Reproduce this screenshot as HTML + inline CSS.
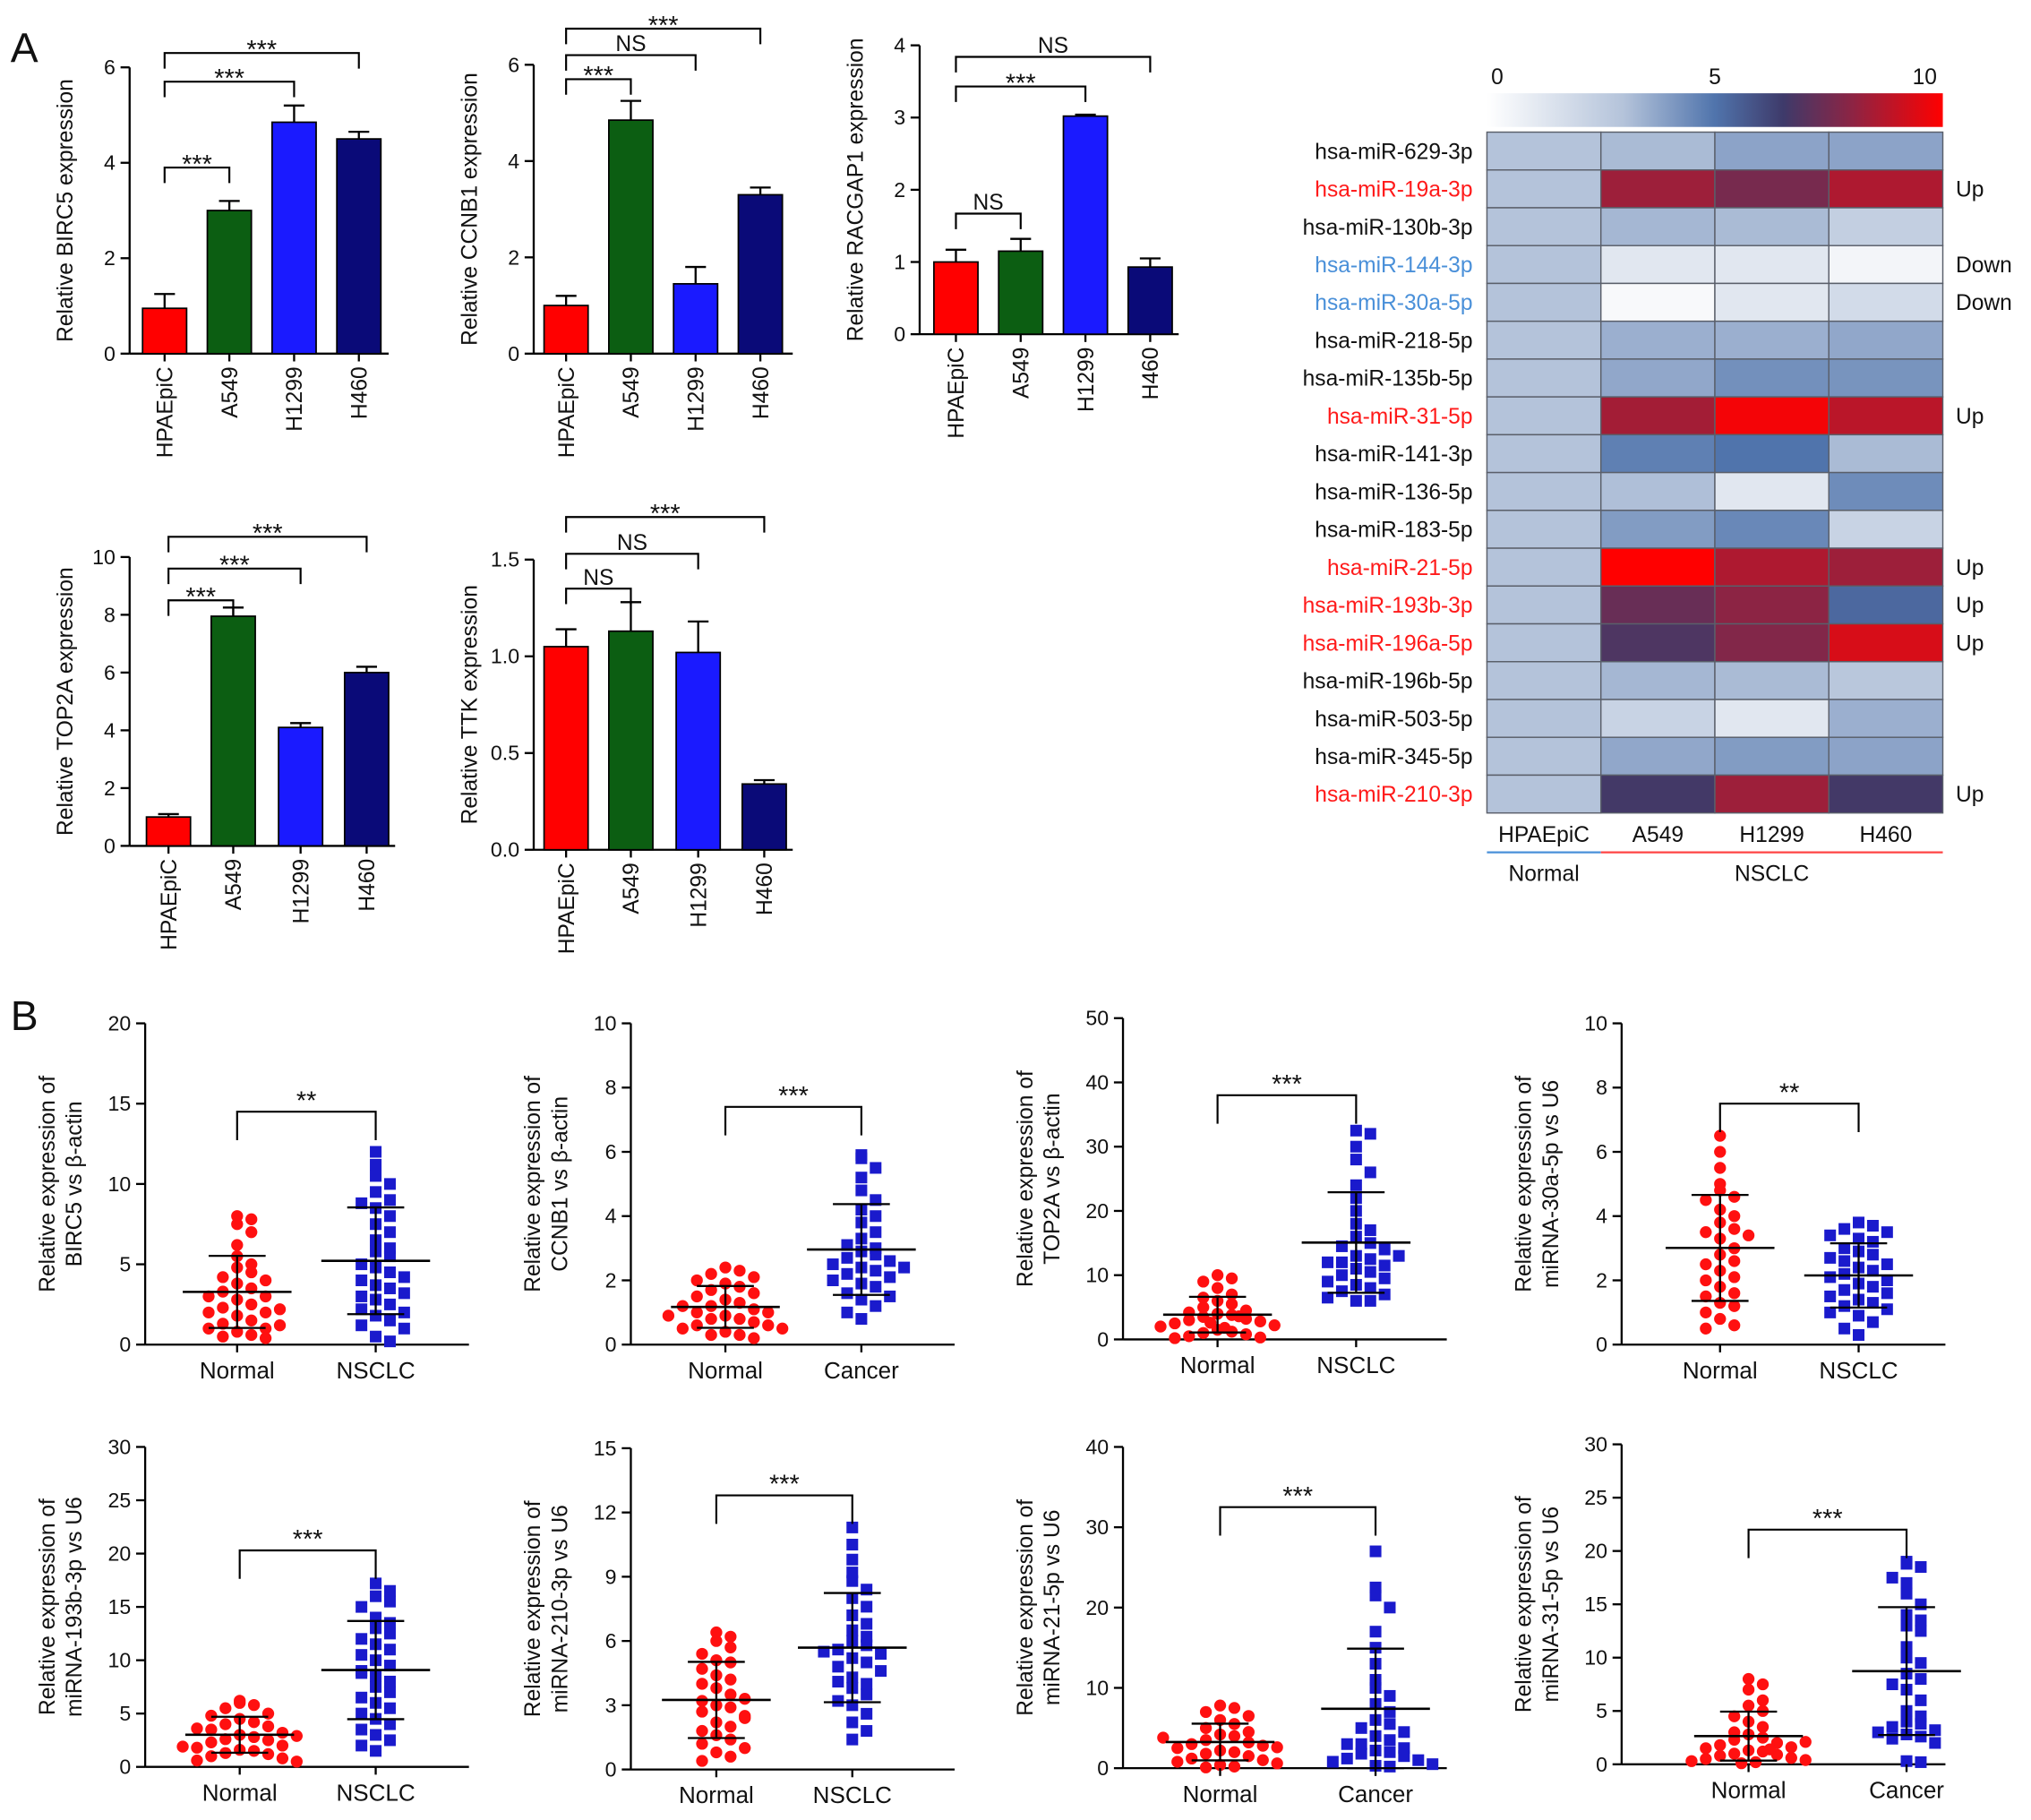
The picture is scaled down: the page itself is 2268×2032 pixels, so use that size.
<!DOCTYPE html>
<html><head><meta charset="utf-8"><style>
html,body{margin:0;padding:0;background:#fff}
svg{display:block}
text{font-family:"Liberation Sans",Arial,sans-serif;fill:#111}
</style></head><body>
<svg id="fig" xmlns="http://www.w3.org/2000/svg" width="2268" height="2032" viewBox="0 0 1568 1405"></svg>
<script>
// ===== Panel A bar data =====
const barLabels = ["HPAEpiC","A549","H1299","H460"];
const barColors = ["#ff0000","#0c5e12","#1a1aff","#0a0a78"];
const birc5Vals = [0.95,3.0,4.85,4.5];
const birc5Errs = [0.3,0.2,0.35,0.15];
const ccnb1Vals = [1.0,4.85,1.45,3.3];
const ccnb1Errs = [0.2,0.4,0.35,0.15];
const racgapVals = [1.0,1.15,3.02,0.93];
const racgapErrs = [0.17,0.17,0.02,0.12];
const top2aVals = [1.0,7.95,4.1,6.0];
const top2aErrs = [0.1,0.3,0.15,0.2];
const ttkVals = [1.05,1.13,1.02,0.34];
const ttkErrs = [0.09,0.15,0.16,0.02];
// ===== Heatmap data =====
const mirNames = ["hsa-miR-629-3p","hsa-miR-19a-3p","hsa-miR-130b-3p","hsa-miR-144-3p","hsa-miR-30a-5p","hsa-miR-218-5p","hsa-miR-135b-5p","hsa-miR-31-5p","hsa-miR-141-3p","hsa-miR-136-5p","hsa-miR-183-5p","hsa-miR-21-5p","hsa-miR-193b-3p","hsa-miR-196a-5p","hsa-miR-196b-5p","hsa-miR-503-5p","hsa-miR-345-5p","hsa-miR-210-3p"];
const mirStatus = ["","Up","","Down","Down","","","Up","","","","Up","Up","Up","","","","Up"];
const heatCols = ["HPAEpiC","A549","H1299","H460"];
const heatVals = [
 [3,3.2,3.8,3.8],[3,8.3,7.6,8.6],[3,3.3,3.2,2.4],[3,1.2,1.2,0.5],[3,0.3,1.2,1.8],
 [3,3.5,3.5,3.7],[3,3.7,4.3,4.2],[3,8.4,9.8,8.8],[3,4.7,5,3.2],[3,3.1,1.2,4.4],
 [3,4,4.5,2.2],[3,10,8.6,8.3],[3,7.3,8,5.3],[3,6.8,7.8,9.3],[3,3.3,3.2,2.8],
 [3,2.2,1.2,3.5],[3,3.7,4,3.8],[3,6.6,8.3,6.6]];
// ===== Panel B scatter data =====
const b1N=[8,7.8,7.5,7,6.2,5.5,5,4.8,4.5,4.2,4,3.8,3.5,3.3,3,3,2.8,2.5,2.3,2,2,1.8,1.5,1.3,1,1,0.8,0.6,0.5,0.4,1.2,2.2];
const b1C=[12,11.2,10.5,10,9.5,9,8.8,8.5,8,7.5,7,6.5,6,5.8,5.5,5,4.8,4.5,4,3.7,3.5,3,2.8,2.5,2.2,2,1.8,1.5,1.2,1,0.5,0.2,3.2,4.2];
const b2N=[2.4,2.3,2.2,2.1,2,1.9,1.8,1.7,1.6,1.5,1.4,1.3,1.2,1.1,1,1,0.9,0.8,0.8,0.7,0.6,0.6,0.5,0.5,0.4,0.3,0.3,0.2,1.2,0.9];
const b2C=[5.9,5.8,5.5,5.2,4.8,4.5,4.2,4,3.8,3.5,3.3,3,2.9,2.8,2.7,2.6,2.5,2.4,2.3,2.2,2.1,2,1.9,1.8,1.6,1.5,1.4,1.2,1,0.8,3.1,2.4];
const b3N=[10,9.5,9,8,7,6.5,6,5.5,5,4.5,4.2,4,3.8,3.5,3.2,3,2.8,2.5,2.2,2,1.8,1.5,1.2,1,0.8,0.5,0.3,0.2,2.6,3.6];
const b3C=[32.5,32,30,28,26,24,22,20,18,17,16,15,14.5,14,13,12.5,12,11.5,11,10.5,10,9.5,9,8.5,8,7.5,7,6.5,6,6,12,13];
const b4N=[6.5,6,5.5,5,4.8,4.6,4.5,4.2,4,3.8,3.6,3.5,3.3,3,2.8,2.6,2.5,2.3,2.1,2,1.8,1.6,1.5,1.3,1.2,1,0.8,0.6,0.5,3.4];
const b4C=[3.8,3.7,3.6,3.5,3.4,3.3,3.2,3,2.9,2.8,2.6,2.5,2.4,2.3,2.2,2,1.9,1.8,1.7,1.6,1.5,1.4,1.3,1.2,1.1,1,0.9,0.7,0.5,0.3,2.1,2.7];
const b5N=[6.2,6,5.8,5.5,5,4.8,4.5,4.2,4,3.8,3.5,3.2,3,2.8,2.6,2.5,2.3,2,1.8,1.6,1.5,1.3,1.2,1,0.8,0.6,0.5,2.9,3.6,1.9];
const b5C=[17.2,16.5,16,15.5,15,14,13.5,13,12.5,12,11.5,11,10.5,10,9.5,9,8.5,8,7.5,7,6.5,6,5.5,5,4.5,4,3.5,3,2.5,2,1.5,8.8];
const b6N=[6.4,6.2,6,5.7,5.4,5.1,5,4.7,4.4,4.2,4,3.8,3.5,3.2,3,2.9,2.7,2.5,2.2,2,1.8,1.6,1.4,1.2,1,0.8,0.6,0.4,3.3,2.4];
const b6C=[11.3,10.5,9.8,9.2,8.8,8.4,8,7.6,7.2,6.8,6.5,6.2,6,5.8,5.6,5.4,5.2,5,4.8,4.6,4.3,4,3.8,3.5,3.2,3,2.6,2.2,1.8,1.4,5.5,4.1];
const b7N=[7.8,7.5,7,6.5,6,5.5,5,4.5,4.2,4,3.5,3.2,3,2.8,2.5,2.2,2,1.8,1.5,1.2,1,0.8,0.6,0.4,0.2,0.1,2.6,3.8];
const b7C=[27,22.5,21.5,20,17,15,13,11,10,9,8,7,6,5.5,5,4.5,4,3.5,3,2.5,2.2,2,1.8,1.5,1.2,1,0.8,0.5,0.3,0.2,3];
const b8N=[8,7.5,7,6,5.5,5,4.5,4,3.5,3,2.8,2.5,2.3,2,1.8,1.6,1.5,1.3,1.2,1,0.9,0.8,0.6,0.5,0.4,0.3,0.2,0.1,2.1,1.4];
const b8C=[19,18.8,18.5,17.5,17,16,15,14,13.5,13,12.5,11,10,9.5,8.5,8,7.5,7,6,5,4.5,4,3.8,3.5,3.2,3,2.8,2.6,2.4,2,0.3,0.2];

const NS="http://www.w3.org/2000/svg";
const svg=document.getElementById('fig');
function el(tag,attrs,parent,txt){const e=document.createElementNS(NS,tag);for(const k in attrs)e.setAttribute(k,attrs[k]);if(txt!==undefined)e.textContent=txt;(parent||svg).appendChild(e);return e;}
function grp(name){const g=el('g',{});return g;}

let t=el('text',{x:8,y:48,'font-size':32},svg,'A');
t=el('text',{x:8,y:795,'font-size':32},svg,'B');

function yAxis(g,x0,yTop,yBot,max,ticks,fmt){
  const ys=v=>yBot-(v/max)*(yBot-yTop);
  el('line',{x1:x0,y1:yTop,x2:x0,y2:yBot,stroke:'#000','stroke-width':1.6},g);
  ticks.forEach(v=>{const y=ys(v);
    el('line',{x1:x0-7,y1:y,x2:x0,y2:y,stroke:'#000','stroke-width':1.6},g);
    const tt=el('text',{x:x0-11,y:y+5.5,'font-size':16,'text-anchor':'end'},g,fmt?fmt(v):String(v));
    });
  return ys;
}

function barChart(name,x0,xEnd,yTop,yBot,max,ticks,fmt,vals,errs,centers,title,brackets){
  const g=grp(name);
  const ys=yAxis(g,x0,yTop,yBot,max,ticks,fmt);
  el('line',{x1:x0,y1:yBot,x2:xEnd,y2:yBot,stroke:'#000','stroke-width':1.6},g);
  vals.forEach((v,i)=>{const cx=centers[i],w=34;
    const r=el('rect',{x:cx-w/2,y:ys(v),width:w,height:yBot-ys(v),fill:barColors[i],stroke:'#000','stroke-width':1.2},g);
    
    const ye=ys(v+errs[i]);
    el('line',{x1:cx,y1:ys(v),x2:cx,y2:ye,stroke:'#000','stroke-width':1.6},g);
    el('line',{x1:cx-8,y1:ye,x2:cx+8,y2:ye,stroke:'#000','stroke-width':1.6},g);
    el('line',{x1:cx,y1:yBot,x2:cx,y2:yBot+6,stroke:'#000','stroke-width':1.6},g);
    const lt=el('text',{x:cx+6,y:yBot+10,'font-size':17,'text-anchor':'end',transform:`rotate(-90 ${cx+6} ${yBot+10})`},g,barLabels[i]);
    
  });
  const my=(yTop+yBot)/2, tx=x0-44;
  const tt=el('text',{x:tx,y:my,'font-size':17,'text-anchor':'middle',transform:`rotate(-90 ${tx} ${my})`},g,title);
  
  brackets.forEach(b=>{const y=ys(b[2]),xa=centers[b[0]],xb=centers[b[1]];
    el('polyline',{points:`${xa},${y+12} ${xa},${y} ${xb},${y} ${xb},${y+12}`,fill:'none',stroke:'#000','stroke-width':1.5},g);
    const s=el('text',{x:(xa+xb)/2,y:y-(b[3]==='NS'?3:-4),'font-size':b[3]==='NS'?17:20,'text-anchor':'middle'},g,b[3]);
    });
}
const f1=v=>v.toFixed(1);
barChart('birc5-bar-chart',100,300,52,273,6,[0,2,4,6],null,birc5Vals,birc5Errs,[127,177,227,277],'Relative BIRC5 expression',[[0,1,3.9,'***'],[0,2,5.7,'***'],[0,3,6.3,'***']]);
barChart('ccnb1-bar-chart',412,612,50,273,6,[0,2,4,6],null,ccnb1Vals,ccnb1Errs,[437,487,537,587],'Relative CCNB1 expression',[[0,1,5.7,'***'],[0,2,6.2,'NS'],[0,3,6.75,'***']]);
barChart('racgap1-bar-chart',710,910,35,258,4,[0,1,2,3,4],null,racgapVals,racgapErrs,[738,788,838,888],'Relative RACGAP1 expression',[[0,1,1.67,'NS'],[0,2,3.43,'***'],[0,3,3.84,'NS']]);
barChart('top2a-bar-chart',100,305,430,653,10,[0,2,4,6,8,10],null,top2aVals,top2aErrs,[130,180,232,283],'Relative TOP2A expression',[[0,1,8.5,'***'],[0,2,9.6,'***'],[0,3,10.7,'***']]);
barChart('ttk-bar-chart',412,612,432,656,1.5,[0,0.5,1,1.5],f1,ttkVals,ttkErrs,[437,487,539,590],'Relative TTK expression',[[0,1,1.35,'NS'],[0,2,1.53,'NS'],[0,3,1.72,'***']]);

// ===== Heatmap =====
const stops=[[0,[255,255,255]],[3,[180,195,218]],[5,[80,116,172]],[6.5,[62,58,106]],[8,[140,36,68]],[10,[255,0,0]]];
function cmap(v){for(let i=1;i<stops.length;i++){if(v<=stops[i][0]){const a=stops[i-1],b=stops[i],f=(v-a[0])/(b[0]-a[0]);return 'rgb('+a[1].map((c,k)=>Math.round(c+(b[1][k]-c)*f)).join(',')+')';}}return 'rgb(255,0,0)';}
(function(){
  const g=grp('mirna-heatmap');
  const hx=1148,hy=102,cw=88,rh=29.2;
  const defs=el('defs',{},g);const lg=el('linearGradient',{id:'cb',x1:0,x2:1,y1:0,y2:0},defs);
  stops.forEach(s=>el('stop',{offset:(s[0]/10),'stop-color':'rgb('+s[1].join(',')+')'},lg));
  const cb=el('rect',{x:hx,y:72,width:352,height:26,fill:'url(#cb)'},g);
  
  [[0,'0'],[5,'5'],[10,'10']].forEach(p=>{const tt=el('text',{x:hx+p[0]/10*352-(p[0]==10?14:0)+(p[0]==0?8:0),y:65,'font-size':17,'text-anchor':'middle'},g,p[1]);});
  heatVals.forEach((row,r)=>{
    row.forEach((v,c)=>{const rc=el('rect',{x:hx+c*cw,y:hy+r*rh,width:cw,height:rh,fill:cmap(v),stroke:'#5a5f6a','stroke-width':1},g);
      });
    const st=mirStatus[r];
    const col=st==='Up'?'#ff1a1a':st==='Down'?'#4a90d9':'#111';
    const tt=el('text',{x:1137,y:hy+r*rh+rh/2+6,'font-size':17,'text-anchor':'end',style:'fill:'+col},g,mirNames[r]);
    
    if(st){const s=el('text',{x:1510,y:hy+r*rh+rh/2+6,'font-size':17},g,st);}
  });
  heatCols.forEach((c,i)=>{const tt=el('text',{x:hx+i*cw+cw/2,y:650,'font-size':17,'text-anchor':'middle'},g,c);});
  el('line',{x1:hx,y1:658,x2:hx+cw,y2:658,stroke:'#4a90d9','stroke-width':1.5},g);
  el('line',{x1:hx+cw,y1:658,x2:1500,y2:658,stroke:'#ff4444','stroke-width':1.5},g);
  let tt=el('text',{x:hx+cw/2,y:680,'font-size':17,'text-anchor':'middle'},g,'Normal');
  tt=el('text',{x:hx+cw+132,y:680,'font-size':17,'text-anchor':'middle'},g,'NSCLC');
})();

// ===== Scatter =====
function stats(a){const m=a.reduce((s,v)=>s+v,0)/a.length;const sd=Math.sqrt(a.reduce((s,v)=>s+(v-m)*(v-m),0)/(a.length-1));return [m,sd];}
function scatter(name,x0,yTop,yBot,max,ticks,centers,groups,labels,t1,t2,bv,sig){
  const g=grp(name);
  const ys=yAxis(g,x0,yTop,yBot,max,ticks);
  const xEnd=x0+250;
  el('line',{x1:x0,y1:yBot,x2:xEnd,y2:yBot,stroke:'#000','stroke-width':1.6},g);
  groups.forEach((arr,gi)=>{const cx=centers[gi];
    const bins={};
    arr.forEach(v=>{const y=ys(v),b=Math.round(y/12);const k=bins[b]||0;bins[b]=k+1;
      let slot=Math.ceil(k/2);if(slot>4)slot=((slot-1)%4)+0.5;
      const off=(k===0?0:(k%2?1:-1)*slot)*11;
      let m;
      if(gi===0){m=el('circle',{cx:cx+off,cy:y,r:4.6,fill:'#ff1010'},g);}
      else{m=el('rect',{x:cx+off-4.5,y:y-4.5,width:9,height:9,fill:'#1a1acc'},g);}
      });
    const [mu,sd]=stats(arr);
    el('line',{x1:cx-42,y1:ys(mu),x2:cx+42,y2:ys(mu),stroke:'#000','stroke-width':1.8},g);
    el('line',{x1:cx,y1:ys(Math.max(0,mu-sd)),x2:cx,y2:ys(mu+sd),stroke:'#000','stroke-width':1.6},g);
    [mu+sd,Math.max(0,mu-sd)].forEach(v=>el('line',{x1:cx-22,y1:ys(v),x2:cx+22,y2:ys(v),stroke:'#000','stroke-width':1.6},g));
    el('line',{x1:cx,y1:yBot,x2:cx,y2:yBot+6,stroke:'#000','stroke-width':1.6},g);
    const lt=el('text',{x:cx,y:yBot+26,'font-size':18,'text-anchor':'middle'},g,labels[gi]);
    
  });
  const by=ys(bv);
  el('polyline',{points:`${centers[0]},${by+22} ${centers[0]},${by} ${centers[1]},${by} ${centers[1]},${by+22}`,fill:'none',stroke:'#000','stroke-width':1.5},g);
  const s=el('text',{x:(centers[0]+centers[1])/2,y:by-2,'font-size':20,'text-anchor':'middle'},g,sig);
  
  const my=(yTop+yBot)/2;
  [[x0-70,t1],[x0-49,t2]].forEach(p=>{const tt=el('text',{x:p[0],y:my,'font-size':17,'text-anchor':'middle',transform:`rotate(-90 ${p[0]} ${my})`},g,p[1]);
    });
}
const NL=['Normal','NSCLC'],NC=['Normal','Cancer'];
scatter('birc5-scatter',112,790,1038,20,[0,5,10,15,20],[183,290],[b1N,b1C],NL,'Relative expression of','BIRC5 vs β-actin',14.5,'**');
scatter('ccnb1-scatter',487,790,1038,10,[0,2,4,6,8,10],[560,665],[b2N,b2C],NC,'Relative expression of','CCNB1 vs β-actin',7.4,'***');
scatter('top2a-scatter',867,786,1034,50,[0,10,20,30,40,50],[940,1047],[b3N,b3C],NL,'Relative expression of','TOP2A vs β-actin',38,'***');
scatter('mir30a-scatter',1252,790,1038,10,[0,2,4,6,8,10],[1328,1435],[b4N,b4C],NL,'Relative expression of','miRNA-30a-5p vs U6',7.5,'**');
scatter('mir193b-scatter',112,1117,1364,30,[0,5,10,15,20,25,30],[185,290],[b5N,b5C],NL,'Relative expression of','miRNA-193b-3p vs U6',20.3,'***');
scatter('mir210-scatter',487,1118,1366,15,[0,3,6,9,12,15],[553,658],[b6N,b6C],NL,'Relative expression of','miRNA-210-3p vs U6',12.8,'***');
scatter('mir21-scatter',867,1117,1365,40,[0,10,20,30,40],[942,1062],[b7N,b7C],NC,'Relative expression of','miRNA-21-5p vs U6',32.5,'***');
scatter('mir31-scatter',1252,1115,1362,30,[0,5,10,15,20,25,30],[1350,1472],[b8N,b8C],NC,'Relative expression of','miRNA-31-5p vs U6',22,'***');
</script>
</body></html>
